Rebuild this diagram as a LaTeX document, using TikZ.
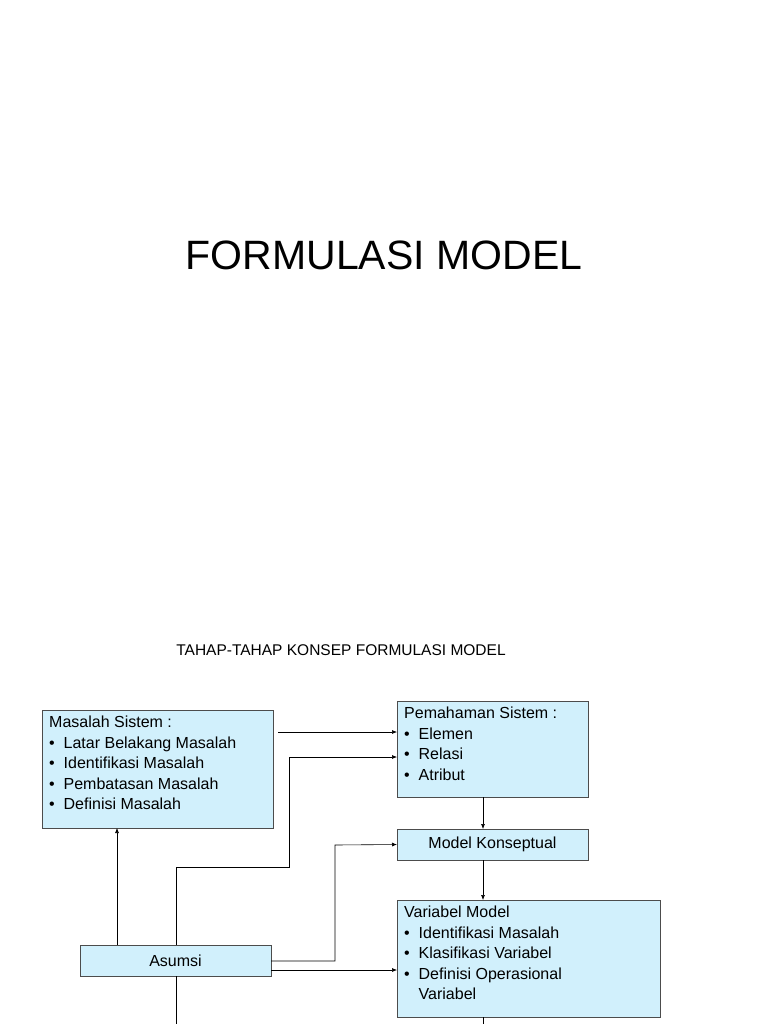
\documentclass[tikz,border=0pt]{standalone}
\usepackage{fontspec}
\setmainfont{Liberation Sans}
\begin{document}
\begin{tikzpicture}[x=1pt,y=-1pt,
 bx/.style={draw=black!70,fill=cyan!18,line width=1pt,inner sep=0pt,outer sep=0pt},
 txt/.style={font=\fontsize{16}{21.5}\selectfont,align=left,anchor=north west,inner sep=0pt},
 ar/.style={-{Latex[length=5pt,width=4pt]},line width=0.6pt},
 ln/.style={line width=0.6pt}]
\usetikzlibrary{arrows.meta}
\useasboundingbox[fill=white] (0,0) rectangle (768,1024);
\node[font=\fontsize{41}{41}\selectfont] (title) at (384,255) {FORMULASI MODEL};
\node[font=\fontsize{15.5}{18}\selectfont] (sub) at (341,650) {TAHAP-TAHAP KONSEP FORMULASI MODEL};
\path[bx] (42,710) rectangle (273,828) coordinate (mbr);
\coordinate (m) at (42,710);
\node[txt] (mt) at (49,716) {Masalah Sistem :\\[-1pt]• \ Latar Belakang Masalah\\[-1pt]• \ Identifikasi Masalah\\[-1pt]• \ Pembatasan Masalah\\[-1pt]• \ Definisi Masalah};
\path[bx] (397,701) rectangle (588,797);
\node[txt] (pt) at (404,707) {Pemahaman Sistem :\\[-1pt]• \ Elemen\\[-1pt]• \ Relasi\\[-1pt]• \ Atribut};
\node[bx,minimum width=191pt,minimum height=31pt,font=\fontsize{16}{19}\selectfont] (mk) at (492.5,844.5) {Model Konseptual};
\path[bx] (397,900) rectangle (660,1017);
\node[txt] (vt) at (404,906) {Variabel Model\\[-1pt]• \ Identifikasi Masalah\\[-1pt]• \ Klasifikasi Variabel\\[-1pt]• \ Definisi Operasional\\[-1pt]\phantom{• \ }Variabel};
\node[bx,minimum width=191pt,minimum height=31pt,font=\fontsize{16}{19}\selectfont] (as) at (175.5,960.5) {Asumsi};
\coordinate (p1) at (397,732); \coordinate (p2) at (397,757);
\draw[ar] (278,732) -- (p1);
\draw[ar] (176,945) -- (176,867) -- (289,867) -- (289,757) -- (p2);
\draw[ar] (as.east |- 0,961) -- (335,961) -- (335,845) -- (mk.west);
\draw[ar] (271,970) -- (397,970);
\draw[ar] (117,945) -- (117,828);
\draw[ln] (176,976) -- (176,1024);
\draw[ar] (483,797) -- (483,829);
\draw[ar] (483,860) -- (483,900);
\draw[ln] (483,1017) -- (483,1024);
\end{tikzpicture}
\end{document}
